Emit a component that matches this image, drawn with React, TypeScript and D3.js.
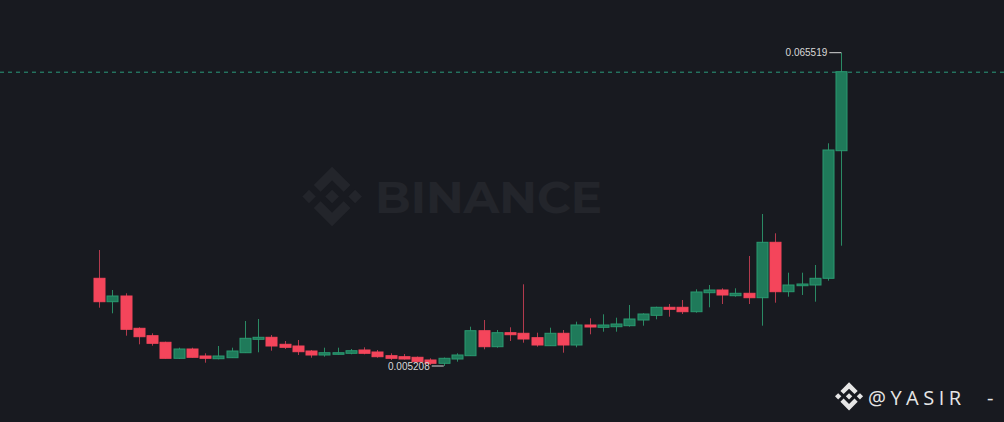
import React from "react";
import * as d3 from "d3";

const opens = [0.02209,0.017586,0.018683,0.012465,0.011041,0.00977,0.00669,0.008481,0.007133,0.006613,0.006806,0.007768,0.010348,0.010733,0.009385,0.009058,0.008096,0.007326,0.00746,0.007653,0.008288,0.007903,0.007191,0.006998,0.006883,0.006363,0.005728,0.006556,0.007191,0.012003,0.008923,0.011618,0.011503,0.010656,0.009116,0.011503,0.009251,0.013101,0.012658,0.012773,0.012966,0.014063,0.014968,0.016508,0.016508,0.015661,0.019318,0.019838,0.018741,0.019203,0.018356,0.02902,0.019511,0.020666,0.020801,0.02209,0.046653];
const highs = [0.027538,0.019838,0.019203,0.012658,0.011503,0.009886,0.008731,0.008731,0.007653,0.009058,0.008731,0.013871,0.014256,0.011176,0.010021,0.010213,0.008288,0.008731,0.008731,0.008481,0.008808,0.008288,0.007653,0.007518,0.007037,0.00669,0.006844,0.007653,0.012773,0.014063,0.012138,0.012658,0.020935,0.011618,0.012581,0.012138,0.013736,0.01439,0.01516,0.014506,0.016951,0.015353,0.016623,0.017143,0.017913,0.019973,0.020801,0.020165,0.020165,0.026383,0.034468,0.030753,0.023168,0.023168,0.024651,0.048078,0.065519];
const lows = [0.016431,0.015353,0.011041,0.009385,0.009116,0.006652,0.006556,0.006844,0.005843,0.006498,0.006748,0.007711,0.007845,0.008153,0.008481,0.007326,0.006806,0.006998,0.007422,0.00746,0.00746,0.006806,0.006363,0.006459,0.005978,0.005401,0.005208,0.006036,0.007133,0.008423,0.008731,0.010021,0.009693,0.008923,0.009058,0.007768,0.008808,0.01131,0.011811,0.011811,0.012773,0.012966,0.014198,0.014698,0.015218,0.015468,0.016508,0.017143,0.018548,0.017143,0.012966,0.017393,0.018548,0.018876,0.017586,0.021628,0.028366];
const closes = [0.017586,0.018683,0.012273,0.010848,0.009578,0.00669,0.008481,0.006883,0.00669,0.007133,0.008096,0.01054,0.010733,0.009058,0.008808,0.007961,0.007326,0.007768,0.007768,0.008153,0.007653,0.006998,0.00669,0.006556,0.006036,0.005728,0.00669,0.007326,0.012003,0.008923,0.011618,0.011233,0.010406,0.009251,0.011503,0.009251,0.013101,0.012716,0.013101,0.013293,0.014256,0.015218,0.016508,0.016123,0.015661,0.019453,0.019838,0.018876,0.019203,0.018356,0.02902,0.019511,0.020801,0.020993,0.02209,0.046788,0.061861];

const highLabel = "0.065519";
const lowLabel = "0.005208";

const LOGO = [
  "M38.73 53.2l24.59-24.58 24.6 24.6 14.3-14.31L63.32 0 24.43 38.9l14.3 14.3z",
  "M0 63.31l14.3-14.31 14.31 14.31-14.31 14.3z",
  "M38.73 73.41l24.59 24.59 24.6-24.6 14.31 14.29-38.9 38.91-38.91-38.88-.02-.02z",
  "M98 63.31l14.3-14.31 14.31 14.3-14.31 14.32z",
  "M77.83 63.3L63.32 48.78 52.59 59.51l-1.24 1.23-2.54 2.54-.02.02.02.03 14.51 14.5 14.51-14.52.01-.01z",
];

const W = 1004;
const H = 422;

export default function App() {
  const n = opens.length;
  const x = d3.scaleLinear().domain([0, n - 1]).range([99.2, 841.3]);
  const y = d3.scaleLinear().domain([0.005208, 0.065519]).range([366, 52.7]);
  const bw = 11;

  const hiIdx = d3.maxIndex(highs);
  const loIdx = d3.minIndex(lows);
  const last = closes[n - 1];

  const green = "#1f7a5a";
  const greenStroke = "#2a9a70";
  const greenWick = "#2a8a64";
  const red = "#f4455b";
  const redWick = "#b23a4d";

  return (
    <svg
      width={W}
      height={H}
      style={{ position: "absolute", left: 0, top: 0, display: "block" }}
    >
      <rect x={0} y={0} width={W} height={H} fill="#181a20" />
      {/* watermark */}
      <g transform="translate(302.3,166.7) scale(0.4705)" fill="#23252b">
        {LOGO.map((d, i) => (
          <path key={i} d={d} />
        ))}
      </g>
      <text
        x={375}
        y={212.7}
        fill="#23252b"
        fontFamily="Montserrat, 'Open Sans', 'DejaVu Sans', sans-serif"
        fontWeight={700}
        fontSize={43}
        textLength={227}
        lengthAdjust="spacingAndGlyphs"
      >
        BINANCE
      </text>

      {/* last price dashed line */}
      <line
        x1={0}
        x2={W}
        y1={y(last) + 0.5}
        y2={y(last) + 0.5}
        stroke="#2a9a7a"
        strokeWidth={1}
        strokeDasharray="4 4"
      />

      {/* candles */}
      {opens.map((o, i) => {
        const c = closes[i];
        const up = c >= o;
        const cx = Math.round(x(i)) + 0.5;
        const top = y(Math.max(o, c));
        const bot = y(Math.min(o, c));
        const h = Math.max(1.5, bot - top);
        return (
          <g key={i}>
            <line
              x1={cx}
              x2={cx}
              y1={y(highs[i])}
              y2={y(lows[i])}
              stroke={up ? greenWick : redWick}
              strokeWidth={1}
            />
            <rect
              x={cx - bw / 2}
              y={top}
              width={bw}
              height={h}
              fill={up ? green : red}
              stroke={up ? greenStroke : red}
              strokeWidth={1}
            />
          </g>
        );
      })}

      {/* high / low labels */}
      <g fontFamily="Arial, 'Liberation Sans', sans-serif" fontSize={10} fill="#d8d8d8">
        <text x={x(hiIdx) - 14} y={y(highs[hiIdx]) + 3.5} textAnchor="end">
          {highLabel}
        </text>
        <line
          x1={x(hiIdx) - 12}
          x2={x(hiIdx)}
          y1={y(highs[hiIdx])}
          y2={y(highs[hiIdx])}
          stroke="#d8d8d8"
          strokeWidth={1}
        />
        <text x={x(loIdx) - 14} y={y(lows[loIdx]) + 3.5} textAnchor="end">
          {lowLabel}
        </text>
        <line
          x1={x(loIdx) - 12}
          x2={x(loIdx)}
          y1={y(lows[loIdx])}
          y2={y(lows[loIdx])}
          stroke="#d8d8d8"
          strokeWidth={1}
        />
      </g>

      {/* bottom-right signature */}
      <g transform="translate(835,382.3) scale(0.222)" fill="#e6e6e6">
        {LOGO.map((d, i) => (
          <path key={i} d={d} />
        ))}
      </g>
      <text
        x={868}
        y={405}
        fill="#e6e6e6"
        fontFamily="'Open Sans', Roboto, sans-serif"
        fontWeight={400}
        fontSize={20}
        letterSpacing={4.5}
      >
        @YASIR
        <tspan x={987}>-</tspan>
      </text>
    </svg>
  );
}
